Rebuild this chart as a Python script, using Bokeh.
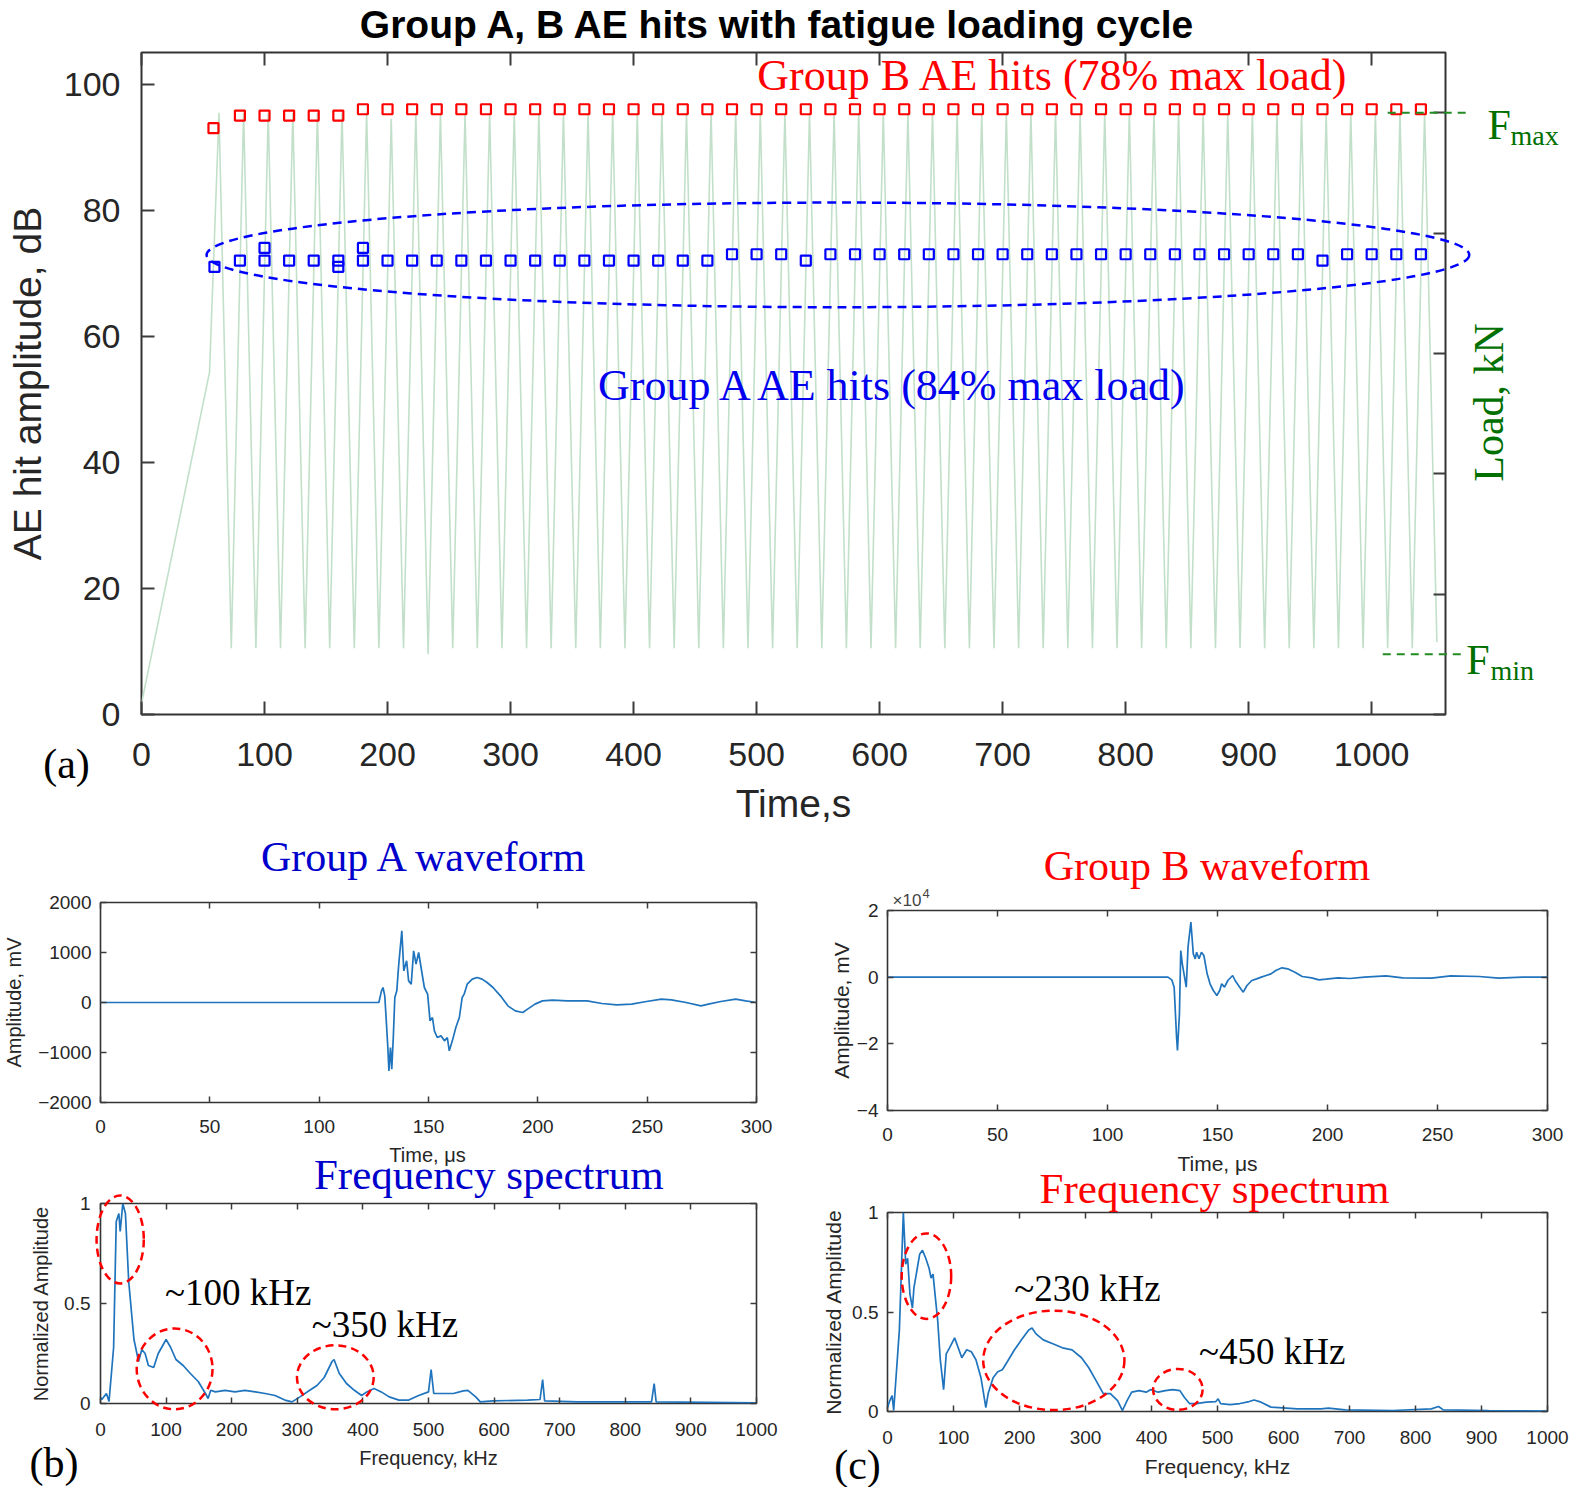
from math import pi
from bokeh.plotting import figure
from bokeh.models import LinearAxis, Range1d, FixedTicker, NumeralTickFormatter
from bokeh.layouts import column, row
from bokeh.embed import file_html
from bokeh.resources import INLINE
from bokeh.core.properties import value

# ---------------- data: panel (a) ----------------
hits_b_t = [58.5, 80, 100, 120, 140, 160, 180, 200, 220, 240, 260, 280, 300, 320, 340, 360, 380,
            400, 420, 440, 460, 480, 500, 520, 540, 560, 580, 600, 620, 640, 660, 680, 700, 720,
            740, 760, 780, 800, 820, 840, 860, 880, 900, 920, 940, 960, 980, 1000, 1020, 1040]
hits_b_db = [93, 95, 95, 95, 95, 95, 96, 96, 96, 96, 96, 96, 96, 96, 96, 96, 96,
             96, 96, 96, 96, 96, 96, 96, 96, 96, 96, 96, 96, 96, 96, 96, 96, 96,
             96, 96, 96, 96, 96, 96, 96, 96, 96, 96, 96, 96, 96, 96, 96, 96]

hits_a_t = [59.3, 80, 100, 100, 120, 140, 160, 160, 180, 180, 200, 220, 240, 260, 280, 300, 320,
            340, 360, 380, 400, 420, 440, 460, 480, 500, 520, 540, 560, 580, 600, 620, 640, 660,
            680, 700, 720, 740, 760, 780, 800, 820, 840, 860, 880, 900, 920, 940, 960, 980, 1000,
            1020, 1040]
hits_a_db = [71, 72, 74, 72, 72, 72, 72, 71, 74, 72, 72, 72, 72, 72, 72, 72, 72,
             72, 72, 72, 72, 72, 72, 72, 73, 73, 73, 72, 73, 73, 73, 73, 73, 73,
             73, 73, 73, 73, 73, 73, 73, 73, 73, 73, 73, 73, 73, 73, 72, 73, 73,
             73, 73]

ramp_t = [0, 55.3]
ramp_kN = [0.18, 5.69]
peak_t = [63, 83, 103, 123, 143, 163, 183, 203, 223, 243, 263, 283, 303, 323, 343, 363, 383,
          403, 423, 443, 463, 483, 503, 523, 543, 563, 583, 603, 623, 643, 663, 683, 703, 723,
          743, 763, 783, 803, 823, 843, 863, 883, 903, 923, 943, 963, 983, 1003, 1023, 1043]
peak_kN = [10.0, 10.0, 10.0, 10.0, 10.0, 10.0, 10.0, 9.9, 10.0, 10.0, 10.0, 10.0, 10.0, 10.0,
           10.0, 10.0, 10.0, 10.0, 10.0, 10.0, 10.0, 10.0, 10.0, 10.0, 10.0, 10.0, 10.0, 10.0,
           10.0, 10.0, 10.0, 10.0, 10.0, 10.0, 10.0, 10.0, 10.0, 10.0, 10.0, 10.0, 10.0, 10.0,
           10.0, 10.0, 10.0, 10.0, 10.0, 10.0, 10.0, 10.0]
trough_t = [73, 93, 113, 133, 153, 173, 193, 213, 233, 253, 273, 293, 313, 333, 353, 373, 393,
            413, 433, 453, 473, 493, 513, 533, 553, 573, 593, 613, 633, 653, 673, 693, 713, 733,
            753, 773, 793, 813, 833, 853, 873, 893, 913, 933, 953, 973, 993, 1013, 1033, 1053]
trough_kN = [1.1, 1.1, 1.1, 1.1, 1.1, 1.1, 1.1, 1.1, 1.0, 1.1, 1.1, 1.1, 1.1, 1.1, 1.1, 1.1,
             1.1, 1.1, 1.1, 1.1, 1.1, 1.1, 1.1, 1.1, 1.1, 1.1, 1.1, 1.1, 1.1, 1.1, 1.1, 1.1,
             1.1, 1.1, 1.1, 1.1, 1.1, 1.1, 1.1, 1.1, 1.1, 1.1, 1.1, 1.1, 1.1, 1.1, 1.1, 1.1,
             1.1, 1.2]
f_max_kN = 10.0
f_min_kN = 1.0

# ---------------- data: waveforms ----------------
wave_a_t = [0, 127.3, 128.5, 129.2, 130.0, 130.7, 131.4, 131.9, 132.6, 133.2, 133.9, 134.6, 135.5,
            136.4, 137.8, 138.7, 140.0, 140.9, 142.1, 143.2, 144.3, 145.5, 146.6, 148.1, 149.6,
            150.7, 151.8, 152.7, 154.0, 155.7, 157.3, 158.6, 159.5, 160.9, 162.5, 164.1, 165.4,
            166.3, 167.7, 170.0, 172.2, 174.5, 176.8, 179.5, 182.9, 186.3, 189.7, 193.1, 195.3,
            198.7, 202.1, 206.7, 213.5, 222.5, 229.3, 236.1, 242.9, 249.7, 256.5, 261.1, 267.8,
            274.6, 278.0, 283.7, 290.5, 295.0, 300]
wave_a_mv = [0, 0, 233, 300, 133, -367, -900, -1367, -900, -1333, -700, 100, 233,
             767, 1433, 633, 833, 433, 367, 1033, 767, 1000, 700, 300, 167,
             -367, -300, -567, -700, -667, -767, -700, -967, -767, -500, -300, 100,
             167, 367, 467, 500, 467, 400, 300, 133, -67, -167, -200, -133,
             -33, 33, 47, 33, 33, -20, -47, -33, 20, 67, 53, 0,
             -67, -33, 20, 67, 33, 0]

wave_b_t = [0, 127.5, 129.2, 130.3, 131.4, 131.8, 132.7, 133.3, 134.0, 135.8, 136.6, 137.9, 139.0,
            139.9, 140.5, 141.6, 142.7, 143.8, 145.3, 146.6, 148.1, 149.7, 151.0, 151.9, 153.2,
            154.7, 156.9, 158.0, 160.1, 161.7, 163.4, 165.6, 167.8, 169.9, 172.1, 174.3, 176.5,
            179.3, 181.9, 185.2, 188.5, 192.8, 196.1, 199.3, 204.8, 210.2, 216.8, 226.6, 234.2,
            247.3, 256.0, 269.0, 277.8, 288.7, 300]
wave_b_1e4mv = [0, 0, -0.08, -0.3, -1.8, -2.2, -1.1, 0.8, 0.4, -0.3, 0.9, 1.65, 0.7,
                0.55, 0.75, 0.55, 0.75, 0.65, 0.1, -0.2, -0.4, -0.55, -0.4, -0.2, -0.3,
                -0.1, 0.05, -0.1, -0.3, -0.45, -0.25, -0.1, -0.05, 0, 0.05, 0.1, 0.2,
                0.28, 0.25, 0.15, 0.02, -0.02, -0.08, -0.06, -0.02, -0.04, 0, 0.04, -0.02,
                -0.03, 0.04, 0.02, -0.03, 0, 0]

# ---------------- data: spectra ----------------
spec_a_khz = [0, 2, 9, 13, 20, 24, 28, 30, 34, 38, 43, 51, 58, 63, 68, 73, 81, 88, 100, 107,
              115, 126, 137, 149, 160, 164, 168, 175, 190, 205, 220, 236, 251, 266, 281, 292,
              304, 319, 330, 341, 353, 356, 364, 375, 387, 398, 406, 417, 428, 440, 455, 470,
              485, 500, 504, 508, 523, 538, 553, 560, 572, 579, 598, 651, 670, 674, 677, 727,
              840, 844, 847, 1000]
spec_a_amp = [0.03, 0.02, 0.05, 0.01, 0.28, 0.91, 0.95, 0.86, 1.0, 0.95, 0.61, 0.32, 0.21, 0.27,
              0.25, 0.19, 0.18, 0.25, 0.32, 0.28, 0.22, 0.19, 0.15, 0.11, 0.05, 0.025, 0.066,
              0.058, 0.066, 0.058, 0.066, 0.058, 0.05, 0.04, 0.017, 0.008, 0.033, 0.066, 0.09,
              0.13, 0.21, 0.22, 0.15, 0.10, 0.066, 0.04, 0.058, 0.075, 0.058, 0.033, 0.017,
              0.017, 0.04, 0.058, 0.17, 0.05, 0.05, 0.05, 0.063, 0.066, 0.033, 0.008, 0.013,
              0.017, 0.02, 0.12, 0.013, 0.008, 0.008, 0.10, 0.008, 0.003]

spec_b_khz = [0, 3.6, 7, 9.4, 18, 24, 27.6, 30.5, 34, 37.8, 40, 43.6, 48.7, 53, 58, 63, 66, 69,
              72.6, 76, 80, 85, 89, 94, 101.7, 105, 112.6, 120, 127, 134, 141.6, 149, 152.5,
              160, 167, 174, 181.5, 192.4, 203, 214, 219, 225, 236, 250.5, 265, 279.6, 294,
              305, 316, 327, 337.7, 348.6, 356, 363, 370, 381, 392, 399, 410, 421, 432, 443,
              450, 457.5, 468, 483, 497.5, 501, 504.7, 519, 534, 548, 555.5, 566, 581, 599,
              621, 657, 668, 693.5, 766, 824, 835, 842, 911, 1000]
spec_b_amp = [0.02, 0.055, 0.08, 0.005, 0.41, 1.0, 0.74, 0.77, 0.59, 0.52, 0.62, 0.69, 0.79,
              0.81, 0.77, 0.72, 0.67, 0.69, 0.57, 0.46, 0.26, 0.11, 0.29, 0.32, 0.37, 0.34,
              0.27, 0.31, 0.30, 0.26, 0.17, 0.02, 0.09, 0.17, 0.2, 0.21, 0.25, 0.31, 0.36,
              0.41, 0.42, 0.39, 0.36, 0.34, 0.32, 0.31, 0.27, 0.22, 0.155, 0.09, 0.09, 0.055,
              0.005, 0.055, 0.097, 0.105, 0.097, 0.11, 0.097, 0.105, 0.11, 0.105, 0.07, 0.04,
              0.04, 0.047, 0.05, 0.064, 0.04, 0.035, 0.04, 0.05, 0.058, 0.047, 0.022, 0.018,
              0.013, 0.013, 0.017, 0.008, 0.005, 0.013, 0.025, 0.008, 0.005, 0.002]

# highlighted regions (center x, center y, width, height) in data units
ell_a = dict(x=[566.1], y=[72.9], width=[1026.4], height=[16.6])
ell_spec_a = dict(x=[30, 113, 358], y=[0.82, 0.173, 0.131], width=[72, 115.6, 117],
                  height=[0.44, 0.404, 0.32])
ell_spec_b = dict(x=[59, 252, 440], y=[0.68, 0.257, 0.111], width=[75, 214, 75],
                  height=[0.43, 0.5, 0.206])

time_ticks = [0, 100, 200, 300, 400, 500, 600, 700, 800, 900, 1000]
db_ticks = [0, 20, 40, 60, 80, 100]
load_ticks = [0, 2, 4, 6, 8, 10]
us_ticks = [0, 50, 100, 150, 200, 250, 300]
khz_ticks = [0, 100, 200, 300, 400, 500, 600, 700, 800, 900, 1000]

SANS = "Liberation Sans"
SERIF = "Liberation Serif"
AXC = "#262626"
WAVE = "#1f74bd"
GREEN = "#007000"


def style_axis(ax, ticks, tick_len, lab_size, tick_w, show=True, standoff=8, fmt=None):
    ax.ticker = FixedTicker(ticks=ticks)
    ax.axis_line_color = None
    ax.major_tick_in = tick_len
    ax.major_tick_out = 0
    ax.minor_tick_line_color = None
    ax.major_tick_line_color = "#3c3c3c"
    ax.major_tick_line_width = tick_w
    ax.major_label_text_font = SANS
    if show:
        ax.major_label_text_color = AXC
        ax.major_label_text_font_size = f"{lab_size}px"
        ax.major_label_standoff = standoff
    else:
        # mirrored tick marks only (MATLAB box style), no labels drawn
        ax.major_label_text_color = None
        ax.major_label_text_alpha = 0
        ax.major_label_text_font_size = "1px"
        ax.major_label_standoff = 0
    if fmt is not None:
        ax.formatter = fmt


def axis_label(ax, text, size, standoff):
    ax.axis_label = text
    ax.axis_label_text_font = SANS
    ax.axis_label_text_font_size = f"{size}px"
    ax.axis_label_text_font_style = "normal"
    ax.axis_label_text_color = AXC
    ax.axis_label_standoff = standoff


def base_fig(w, h, xr, yr, mbl, mbr, mbt, mbb, outline_w):
    f = figure(width=w, height=h, x_range=Range1d(*xr), y_range=Range1d(*yr),
               output_backend="svg", toolbar_location=None, title=None,
               min_border_left=mbl, min_border_right=mbr, min_border_top=mbt,
               min_border_bottom=mbb)
    f.xgrid.visible = False
    f.ygrid.visible = False
    f.outline_line_color = "#333333"
    f.outline_line_width = outline_w
    f.outline_line_alpha = 1.0
    f.background_fill_color = "white"
    f.border_fill_color = "white"
    return f


def txt(f, x, y, text, size, color, font=SERIF, align="center", baseline="middle",
        angle=0.0, style="normal"):
    f.text(x=[x], y=[y], text=[text], text_font=value(font),
           text_font_size=value(f"{size}px"), text_color=color,
           text_align=value(align), text_baseline=value(baseline), angle=angle,
           text_font_style=value(style), level="overlay")


# ================= panel (a) =================
pa = base_fig(1570, 830, (0, 1060), (0, 105), 141, 125, 52, 116, 2)
pa.extra_y_ranges = {"load": Range1d(0, 11)}

style_axis(pa.below[0], time_ticks, 13, 34, 2, standoff=28)
style_axis(pa.left[0], db_ticks, 13, 34, 2, standoff=21)
axis_label(pa.below[0], "Time,s", 39, 13)
axis_label(pa.left[0], "AE hit amplitude, dB", 39, 12)
top_a = LinearAxis()
pa.add_layout(top_a, "above")
style_axis(top_a, time_ticks, 13, 34, 2, show=False)
right_a = LinearAxis(y_range_name="load")
pa.add_layout(right_a, "right")
style_axis(right_a, load_ticks, 12, 34, 2, show=False)

load_t = list(ramp_t)
load_kN = list(ramp_kN)
for pt, pk, tt, tk in zip(peak_t, peak_kN, trough_t, trough_kN):
    load_t += [pt, tt]
    load_kN += [pk, tk]
pa.line(load_t, load_kN, y_range_name="load", line_color="#c2e0c9", line_width=1.6)

pa.scatter(hits_b_t, hits_b_db, marker="square", size=10, fill_color=None,
           line_color="#ff0000", line_width=2.2)
pa.scatter(hits_a_t, hits_a_db, marker="square", size=10, fill_color=None,
           line_color="#0000ff", line_width=2.2)
pa.ellipse(fill_color=None, line_color="#0000ff", line_width=2.5, line_dash="9 6",
           level="overlay", **ell_a)

pa.line([1013, 1081], [f_max_kN, f_max_kN], y_range_name="load", line_color="#228b22",
        line_width=2, line_dash="8 6", level="overlay")
pa.line([1009, 1075], [f_min_kN, f_min_kN], y_range_name="load", line_color="#228b22",
        line_width=2, line_dash="8 6", level="overlay")

txt(pa, 517.4, 109.4, "Group A, B AE hits with fatigue loading cycle", 39, "#000000",
    font=SANS, style="bold")
txt(pa, 741, 101.3, "Group B AE hits (78% max load)", 44, "#ff0000")
txt(pa, 612.5, 52.2, "Group A AE hits (84% max load)", 44, "#0000ee")
txt(pa, 1095, 49.5, "Load, kN", 42, GREEN, angle=pi / 2)
txt(pa, 1094.1, 93.5, "F", 42, GREEN, align="left")
txt(pa, 1112.8, 91.9, "max", 28, GREEN, align="left")
txt(pa, 1076.8, 8.72, "F", 42, GREEN, align="left")
txt(pa, 1096.6, 7.03, "min", 28, GREEN, align="left")
txt(pa, -61, -7.9, "(a)", 42, "#000000")

# ================= panel (b) =================
b1 = base_fig(785, 312, (0, 300), (-2000, 2000), 94, 29, 72, 40, 1.6)
style_axis(b1.below[0], us_ticks, 6, 19, 1.5, standoff=17)
style_axis(b1.left[0], [-2000, -1000, 0, 1000, 2000], 6, 19, 1.5, standoff=9)
axis_label(b1.left[0], "Amplitude, mV", 20, 10)
for side, ticks in (("above", us_ticks), ("right", [-2000, -1000, 0, 1000, 2000])):
    ax = LinearAxis()
    b1.add_layout(ax, side)
    style_axis(ax, ticks, 6, 19, 1.5, show=False)
b1.line(wave_a_t, wave_a_mv, line_color=WAVE, line_width=1.7)
txt(b1, 148.6, 2920, "Group A waveform", 42, "#0000cc")

b2 = base_fig(785, 345, (0, 1000), (0, 1), 94, 29, 61, 84, 1.6)
style_axis(b2.below[0], khz_ticks, 6, 19, 1.5, standoff=19)
style_axis(b2.left[0], [0, 0.5, 1], 6, 19, 1.5, standoff=10,
           fmt=NumeralTickFormatter(format="0.[0]"))
axis_label(b2.below[0], "Frequency, kHz", 20, 8)
axis_label(b2.left[0], "Normalized Amplitude", 20, 9)
for side, ticks in (("above", khz_ticks), ("right", [0, 0.5, 1])):
    ax = LinearAxis()
    b2.add_layout(ax, side)
    style_axis(ax, ticks, 6, 19, 1.5, show=False)
b2.line(spec_a_khz, spec_a_amp, line_color=WAVE, line_width=1.7)
b2.ellipse(fill_color=None, line_color="#ff0000", line_width=2.5, line_dash="8 5",
           level="overlay", **ell_spec_a)
txt(b2, 498.5, 1.245, "Time, μs", 20, AXC, font=SANS)
txt(b2, 592, 1.145, "Frequency spectrum", 43, "#0000cc")
txt(b2, 210, 0.557, "~100 kHz", 37, "#000000")
txt(b2, 433.5, 0.395, "~350 kHz", 37, "#000000")
txt(b2, -71, -0.295, "(b)", 42, "#000000")

# ================= panel (c) =================
c1 = base_fig(785, 319, (0, 300), (-4, 2), 102, 23, 80, 39, 1.6)
style_axis(c1.below[0], us_ticks, 6, 19, 1.5, standoff=17)
style_axis(c1.left[0], [-4, -2, 0, 2], 6, 19, 1.5, standoff=9)
axis_label(c1.left[0], "Amplitude, mV", 21, 1)
for side, ticks in (("above", us_ticks), ("right", [-4, -2, 0, 2])):
    ax = LinearAxis()
    c1.add_layout(ax, side)
    style_axis(ax, ticks, 6, 19, 1.5, show=False)
c1.line(wave_b_t, wave_b_1e4mv, line_color=WAVE, line_width=1.7)
txt(c1, 145.2, 3.35, "Group B waveform", 42, "#ff0000")
txt(c1, 2.3, 2.3, "×10", 17, "#444444", font=SANS, align="left")
txt(c1, 15.9, 2.52, "4", 13, "#444444", font=SANS, align="left")

c2 = base_fig(785, 338, (0, 1000), (0, 1), 102, 23, 63, 76, 1.6)
style_axis(c2.below[0], khz_ticks, 6, 19, 1.5, standoff=19)
style_axis(c2.left[0], [0, 0.5, 1], 6, 19, 1.5, standoff=9,
           fmt=NumeralTickFormatter(format="0.[0]"))
axis_label(c2.below[0], "Frequency, kHz", 21, 8)
axis_label(c2.left[0], "Normalized Amplitude", 21, 4)
for side, ticks in (("above", khz_ticks), ("right", [0, 0.5, 1])):
    ax = LinearAxis()
    c2.add_layout(ax, side)
    style_axis(ax, ticks, 6, 19, 1.5, show=False)
c2.line(spec_b_khz, spec_b_amp, line_color=WAVE, line_width=1.7)
c2.ellipse(fill_color=None, line_color="#ff0000", line_width=2.5, line_dash="8 5",
           level="overlay", **ell_spec_b)
txt(c2, 500, 1.246, "Time, μs", 21, AXC, font=SANS)
txt(c2, 495.5, 1.12, "Frequency spectrum", 43, "#ff0000")
txt(c2, 303, 0.618, "~230 kHz", 37, "#000000")
txt(c2, 583, 0.30, "~450 kHz", 37, "#000000")
txt(c2, -45.5, -0.27, "(c)", 42, "#000000")

layout = column(pa, row(column(b1, b2), column(c1, c2)))
open("out.html", "w").write(file_html(layout, INLINE))
